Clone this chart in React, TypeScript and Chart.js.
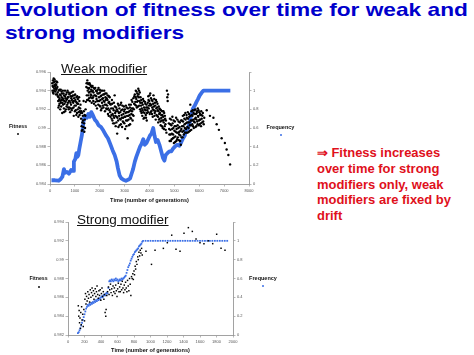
import React, { useEffect, useRef } from "react";
import { Chart, registerables } from "chart.js";

Chart.register(...registerables);

const FONT = '"Liberation Sans", Arial, Helvetica, sans-serif';
const BLUE = "#3b6fe6";

// ---------- tick labels ----------
const weakTimeTicks = [0, 1000, 2000, 3000, 4000, 5000, 6000, 7000, 8000];
const weakFitnessTicks = [0.984, 0.986, 0.988, 0.99, 0.992, 0.994, 0.996];
const strongTimeTicks = [0, 200, 400, 600, 800, 1000, 1200, 1400, 1600, 1800, 2000];
const strongFitnessTicks = [0.982, 0.984, 0.986, 0.988, 0.99, 0.992, 0.994];
const frequencyTicks = [0, 0.2, 0.4, 0.6, 0.8, 1, 1.2];

// ---------- weak modifier: [generation, fitness] (first half of the cloud) ----------
const weakFitnessA: [number, number][] = [
  [90, 0.9948], [100, 0.994], [115, 0.9951], [130, 0.9944], [140, 0.9937], [155, 0.9949], [170, 0.9942], [185, 0.9952],
  [200, 0.9945], [215, 0.9939], [230, 0.9947], [245, 0.9941], [260, 0.995], [280, 0.9936], [295, 0.9944],
  [310, 0.9938], [330, 0.9929], [345, 0.9933], [360, 0.9924], [375, 0.9941], [390, 0.9931], [410, 0.992], [425, 0.9935],
  [440, 0.9927], [460, 0.9939], [475, 0.993], [490, 0.9916], [510, 0.9932], [525, 0.9925], [545, 0.9937], [560, 0.9921],
  [575, 0.9929], [595, 0.9934], [610, 0.9918], [630, 0.9928], [650, 0.9936], [665, 0.9923], [685, 0.9931],
  [705, 0.994], [720, 0.9927], [740, 0.9933], [755, 0.992], [775, 0.9936], [790, 0.9929], [810, 0.9917], [830, 0.9934],
  [845, 0.9925], [865, 0.9938], [880, 0.993], [900, 0.9921], [920, 0.9935], [935, 0.9927], [955, 0.9913], [970, 0.9932],
  [990, 0.9924], [1010, 0.9936], [1030, 0.9919], [1050, 0.9928], [1065, 0.9933], [1085, 0.9916], [1100, 0.9926],
  [1120, 0.9931], [1140, 0.9912], [1160, 0.9922], [1180, 0.9929], [1200, 0.9918], [1225, 0.9925],
  [1250, 0.991], [1270, 0.9902], [1290, 0.9916], [1310, 0.9898], [1330, 0.9908], [1350, 0.9929], [1370, 0.9905],
  [1390, 0.9914], [1410, 0.99], [1430, 0.992],
  [1460, 0.9944], [1480, 0.9935], [1500, 0.9951], [1515, 0.994], [1530, 0.993], [1550, 0.9947], [1565, 0.9938],
  [1580, 0.9943], [1600, 0.9929], [1620, 0.9946], [1640, 0.9936], [1655, 0.9941], [1675, 0.9927], [1690, 0.9939],
  [1710, 0.9945], [1730, 0.9933], [1750, 0.9938], [1770, 0.9926], [1790, 0.9942],
  [1810, 0.9935], [1830, 0.9928], [1850, 0.994], [1870, 0.9931], [1890, 0.9921], [1910, 0.9937], [1930, 0.9929],
  [1950, 0.9943], [1970, 0.9933], [1990, 0.9924], [2010, 0.9938], [2030, 0.993], [2050, 0.9919], [2070, 0.9935],
  [2090, 0.9927], [2110, 0.994], [2130, 0.9932], [2150, 0.9922], [2170, 0.9936], [2190, 0.9928], [2210, 0.9918],
  [2230, 0.9933], [2250, 0.9925], [2270, 0.9937], [2290, 0.992], [2310, 0.993], [2330, 0.9915], [2350, 0.9927],
  [2370, 0.9934], [2390, 0.9919], [2410, 0.9926], [2430, 0.9912],
  [2460, 0.9921], [2480, 0.991], [2500, 0.9926], [2520, 0.9915], [2540, 0.9905], [2560, 0.9919], [2580, 0.9911],
  [2600, 0.9935], [2620, 0.9916], [2640, 0.9902], [2660, 0.9922], [2680, 0.9912], [2700, 0.9894], [2720, 0.9918],
  [2740, 0.9908], [2760, 0.9924], [2780, 0.9913], [2800, 0.9903], [2820, 0.9917], [2840, 0.9909], [2860, 0.9927],
  [2880, 0.9914], [2900, 0.9901], [2920, 0.992], [2940, 0.9911], [2960, 0.9906], [2980, 0.9918], [3000, 0.9912],
  [3020, 0.9899], [3040, 0.9916], [3060, 0.9908], [3080, 0.9922], [3100, 0.9913], [3120, 0.9889], [3140, 0.9917],
  [3160, 0.9909], [3180, 0.9925], [3200, 0.9914], [3220, 0.9904], [3240, 0.9919], [3260, 0.991], [3280, 0.993],
  [3300, 0.9918], [3320, 0.9908], [3340, 0.9921], [3360, 0.9913], [3380, 0.9926],
  [3410, 0.9936], [3430, 0.9928], [3450, 0.994], [3470, 0.9931], [3490, 0.9922], [3510, 0.9937], [3530, 0.9929],
  [3550, 0.9942], [3570, 0.9933], [3590, 0.9924], [3610, 0.9938], [3630, 0.9927], [3650, 0.9918], [3670, 0.993],
  [3690, 0.9921], [3710, 0.9913], [3730, 0.9925], [3750, 0.9917], [3770, 0.9929], [3790, 0.9911], [3810, 0.992],
  [3830, 0.9926], [3850, 0.9914], [3870, 0.9922], [3890, 0.9908], [3910, 0.9919],
  [3930, 0.9927], [3950, 0.9934], [3970, 0.9921], [3990, 0.9929], [4010, 0.9915], [4030, 0.9937], [4050, 0.9924],
  [4070, 0.9918], [4090, 0.993], [4110, 0.9922], [4130, 0.9912], [4150, 0.9926], [4170, 0.9919], [4190, 0.9931],
  [4210, 0.9916], [4230, 0.9924], [4250, 0.9909], [4270, 0.9921], [4290, 0.9928], [4310, 0.9913], [4330, 0.9919],
  [4350, 0.9906], [4370, 0.9923], [4390, 0.9915], [4410, 0.991], [4430, 0.992], [4450, 0.9903], [4470, 0.9914],
  [4490, 0.9908], [4510, 0.9918], [4530, 0.99], [4550, 0.9912], [4570, 0.9906], [4590, 0.9916], [4610, 0.9902],
  [4630, 0.991], [4650, 0.9898],
  [4700, 0.994], [4715, 0.9933], [4730, 0.9929], [4745, 0.9936],
  [4780, 0.9905], [4800, 0.9893], [4820, 0.991], [4840, 0.9898], [4860, 0.9886], [4880, 0.9903], [4900, 0.9894],
  [4920, 0.9912], [4940, 0.9889], [4960, 0.99], [4980, 0.9884], [5000, 0.9897], [5020, 0.9907], [5040, 0.9891],
  [5060, 0.9902], [5080, 0.9886], [5100, 0.9895], [5120, 0.9909], [5140, 0.989], [5160, 0.99], [5180, 0.9887],
  [5200, 0.9896], [5220, 0.9906], [5240, 0.9892], [5260, 0.9882], [5280, 0.9899],
  [5300, 0.9908], [5320, 0.9896], [5340, 0.9913], [5360, 0.9902], [5380, 0.9893], [5400, 0.991], [5420, 0.99],
  [5440, 0.9916], [5460, 0.9905], [5480, 0.9895], [5500, 0.9911], [5520, 0.9901], [5540, 0.9917], [5560, 0.9906],
  [5580, 0.9896], [5600, 0.9912], [5620, 0.9903], [5640, 0.9925], [5660, 0.9908], [5680, 0.9898],
  [5700, 0.9914], [5720, 0.9904], [5740, 0.9919], [5760, 0.9909], [5780, 0.99], [5800, 0.9915], [5820, 0.9906],
  [5840, 0.992], [5860, 0.9911], [5880, 0.9902], [5900, 0.9916], [5920, 0.9907], [5940, 0.9921], [5960, 0.9912],
  [5980, 0.9903], [6000, 0.9917], [6020, 0.9909], [6040, 0.9914], [6060, 0.9905], [6080, 0.9918], [6100, 0.991],
  [6130, 0.9913], [6160, 0.9907], [6200, 0.9911],
  [6300, 0.9919], [6430, 0.9913], [6570, 0.9911], [6700, 0.9904], [6790, 0.9898], [6900, 0.9889], [7030, 0.9884],
  [7100, 0.9877], [7170, 0.9871], [7240, 0.9861],
];

// weak modifier: [generation, fitness] (second half of the cloud)
const weakFitnessB: [number, number][] = [
  [105, 0.9945], [122, 0.9938], [148, 0.9953], [162, 0.994], [178, 0.9946], [208, 0.995], [222, 0.9943], [238, 0.9936],
  [252, 0.9946], [270, 0.9942], [288, 0.9949],
  [320, 0.9934], [338, 0.9922], [352, 0.994], [368, 0.993], [382, 0.9926], [400, 0.9936], [418, 0.9929], [432, 0.9941],
  [450, 0.9923], [468, 0.9933], [482, 0.9937], [500, 0.9927], [518, 0.994], [535, 0.993], [552, 0.9917], [568, 0.9935],
  [585, 0.9926], [602, 0.994], [620, 0.9932], [640, 0.992], [658, 0.993], [675, 0.9938], [695, 0.9925],
  [712, 0.9933], [730, 0.9922], [748, 0.9938], [765, 0.9929], [782, 0.9922], [800, 0.9937], [820, 0.9927], [838, 0.9921],
  [855, 0.9932], [872, 0.9919], [890, 0.9934], [910, 0.9928], [928, 0.9939], [945, 0.9922], [962, 0.9929], [980, 0.9935],
  [1000, 0.9918], [1020, 0.993], [1040, 0.9924], [1058, 0.9914], [1075, 0.9927], [1092, 0.9934], [1110, 0.992],
  [1130, 0.9926], [1150, 0.9917], [1170, 0.9933], [1190, 0.9914], [1212, 0.9921], [1238, 0.9916],
  [1260, 0.9918], [1280, 0.9897], [1300, 0.9906], [1320, 0.9913], [1340, 0.9901], [1360, 0.9918], [1380, 0.9896],
  [1400, 0.9909], [1420, 0.9913], [1440, 0.9928],
  [1470, 0.9948], [1490, 0.993], [1508, 0.9943], [1522, 0.9948], [1540, 0.9935], [1558, 0.9942], [1572, 0.9932],
  [1590, 0.9948], [1610, 0.9939], [1630, 0.9933], [1648, 0.9945], [1665, 0.9935], [1682, 0.9944], [1700, 0.9932],
  [1720, 0.994], [1740, 0.9929], [1760, 0.9943], [1780, 0.9935],
  [1820, 0.9943], [1840, 0.9924], [1860, 0.9934], [1880, 0.9939], [1900, 0.9929], [1920, 0.9941], [1940, 0.9925],
  [1960, 0.9937], [1980, 0.9929], [2000, 0.9941], [2020, 0.9923], [2040, 0.9934], [2060, 0.994], [2080, 0.9921],
  [2100, 0.9931], [2120, 0.9924], [2140, 0.9936], [2160, 0.9929], [2180, 0.994], [2200, 0.9925], [2220, 0.9937],
  [2240, 0.993], [2260, 0.9921], [2280, 0.9932], [2300, 0.9924], [2320, 0.9935], [2340, 0.9921], [2360, 0.9913],
  [2380, 0.9928], [2400, 0.9933], [2420, 0.9917], [2440, 0.9925],
  [2470, 0.9914], [2490, 0.993], [2510, 0.9908], [2530, 0.9921], [2550, 0.9913], [2570, 0.9927], [2590, 0.9905],
  [2610, 0.9923], [2630, 0.9913], [2650, 0.9918], [2670, 0.9906], [2690, 0.992], [2710, 0.9911], [2730, 0.9926],
  [2750, 0.9901], [2770, 0.9916], [2790, 0.9921], [2810, 0.991], [2830, 0.9925], [2850, 0.9904], [2870, 0.9919],
  [2890, 0.9911], [2910, 0.9924], [2930, 0.9907], [2950, 0.9915], [2970, 0.9923], [2990, 0.9905], [3010, 0.992],
  [3030, 0.9912], [3050, 0.9924], [3070, 0.9902], [3090, 0.9917], [3110, 0.9908], [3130, 0.9921], [3150, 0.9913],
  [3170, 0.9903], [3190, 0.9918], [3210, 0.9922], [3230, 0.9911], [3250, 0.9925], [3270, 0.9915], [3290, 0.9921],
  [3310, 0.9928], [3330, 0.9914], [3350, 0.9932], [3370, 0.992], [3390, 0.9934],
  [3420, 0.9925], [3440, 0.9933], [3460, 0.9924], [3480, 0.9939], [3500, 0.9928], [3520, 0.9934], [3540, 0.9923],
  [3560, 0.9936], [3580, 0.994], [3600, 0.9929], [3620, 0.992], [3640, 0.9933], [3660, 0.9924], [3680, 0.9916],
  [3700, 0.9927], [3720, 0.9919], [3740, 0.9931], [3760, 0.991], [3780, 0.9922], [3800, 0.9916], [3820, 0.9928],
  [3840, 0.9919], [3860, 0.9911], [3880, 0.9925], [3900, 0.9916], [3920, 0.9922],
  [3940, 0.9917], [3960, 0.993], [3980, 0.9924], [4000, 0.9935], [4020, 0.9926], [4040, 0.9917], [4060, 0.9932],
  [4080, 0.9925], [4100, 0.9915], [4120, 0.9929], [4140, 0.992], [4160, 0.9935], [4180, 0.9923], [4200, 0.9913],
  [4220, 0.9927], [4240, 0.9918], [4260, 0.993], [4280, 0.9914], [4300, 0.9922], [4320, 0.9926], [4340, 0.9912],
  [4360, 0.9918], [4380, 0.9909], [4400, 0.9921], [4420, 0.9916], [4440, 0.9907], [4460, 0.9919], [4480, 0.9911],
  [4500, 0.9902], [4520, 0.9914], [4540, 0.9908], [4560, 0.9918], [4580, 0.9899], [4600, 0.9909], [4620, 0.9913],
  [4640, 0.9904], [4660, 0.9908], [4680, 0.9895],
  [4790, 0.9899], [4810, 0.9886], [4830, 0.9904], [4850, 0.9893], [4870, 0.9909], [4890, 0.9888], [4910, 0.9899],
  [4930, 0.9905], [4950, 0.9893], [4970, 0.9908], [4990, 0.989], [5010, 0.9902], [5030, 0.9885], [5050, 0.9896],
  [5070, 0.9911], [5090, 0.9899], [5110, 0.9888], [5130, 0.9903], [5150, 0.9895], [5170, 0.9907], [5190, 0.9893],
  [5210, 0.9901], [5230, 0.9886], [5250, 0.9897], [5270, 0.9908], [5290, 0.989],
  [5310, 0.9902], [5330, 0.989], [5350, 0.9907], [5370, 0.9897], [5390, 0.9914], [5410, 0.9904], [5430, 0.9895],
  [5450, 0.9909], [5470, 0.9899], [5490, 0.9914], [5510, 0.9906], [5530, 0.9895], [5550, 0.991], [5570, 0.99],
  [5590, 0.9915], [5610, 0.9906], [5630, 0.9897], [5650, 0.9913], [5670, 0.9903], [5690, 0.9918],
  [5710, 0.9908], [5730, 0.9913], [5750, 0.9902], [5770, 0.9916], [5790, 0.9907], [5810, 0.9919], [5830, 0.991],
  [5850, 0.9901], [5870, 0.9915], [5890, 0.9909], [5910, 0.9918], [5930, 0.9904], [5950, 0.9913], [5970, 0.9919],
  [5990, 0.9908], [6010, 0.9904], [6030, 0.9915], [6050, 0.9909], [6070, 0.9902], [6090, 0.9914], [6115, 0.9906],
  [6145, 0.9916], [6180, 0.9904],
];

const weakFitness: [number, number][] = [...weakFitnessA, ...weakFitnessB];

// weak modifier: [generation, frequency]
const weakFrequency: [number, number][] = [
  [60, 0.04], [200, 0.04], [350, 0.035], [420, 0.05], [500, 0.08], [560, 0.16], [600, 0.12], [680, 0.13], [760, 0.11],
  [850, 0.15], [930, 0.14], [960, 0.24], [1020, 0.27], [1060, 0.33], [1100, 0.29], [1140, 0.31], [1180, 0.38],
  [1230, 0.45], [1280, 0.52], [1320, 0.6], [1360, 0.7], [1420, 0.73], [1480, 0.71], [1540, 0.75], [1600, 0.72],
  [1660, 0.77], [1720, 0.74], [1800, 0.69], [1870, 0.67], [1950, 0.63], [2050, 0.61], [2150, 0.57], [2250, 0.52],
  [2330, 0.49], [2420, 0.43], [2520, 0.36], [2600, 0.31], [2680, 0.24], [2730, 0.17], [2800, 0.09], [2870, 0.06],
  [2950, 0.045], [3050, 0.035], [3135, 0.045], [3220, 0.06], [3280, 0.11], [3340, 0.16], [3410, 0.24], [3470, 0.29],
  [3550, 0.35], [3620, 0.4], [3680, 0.43], [3750, 0.48], [3810, 0.42], [3880, 0.44], [3950, 0.48], [4020, 0.52],
  [4080, 0.54], [4150, 0.6], [4200, 0.52], [4260, 0.45], [4330, 0.47], [4400, 0.42], [4470, 0.35], [4540, 0.28],
  [4600, 0.25], [4650, 0.31], [4720, 0.33], [4800, 0.35], [4880, 0.35], [4950, 0.38], [5020, 0.4], [5100, 0.42],
  [5200, 0.41], [5280, 0.45], [5350, 0.49], [5420, 0.52], [5470, 0.58], [5550, 0.6], [5620, 0.66], [5680, 0.75],
  [5750, 0.81], [5820, 0.84], [5890, 0.88], [5950, 0.91], [6020, 0.95], [6100, 0.98], [6170, 1.0], [6400, 1.0],
  [6700, 1.0], [7000, 1.0], [7250, 1.0],
];

// ---------- strong modifier: [generation, fitness] ----------
const strongFitness: [number, number][] = [
  [125, 0.9851], [130, 0.984], [135, 0.9846], [140, 0.9833], [145, 0.9838], [150, 0.9827], [155, 0.9844], [160, 0.9831],
  [165, 0.985], [170, 0.9836], [178, 0.9842], [185, 0.9829], [192, 0.9847], [200, 0.9835],
  [205, 0.9858], [212, 0.9864], [218, 0.9853], [225, 0.9861], [232, 0.9856], [240, 0.9866], [248, 0.9859], [255, 0.9863],
  [262, 0.9855], [270, 0.9868], [278, 0.986], [285, 0.9865],
  [292, 0.987], [300, 0.9862], [308, 0.9867], [315, 0.9858], [322, 0.9864], [330, 0.9869], [338, 0.9861], [345, 0.9866],
  [352, 0.9872], [360, 0.9863], [368, 0.9859], [375, 0.9867], [382, 0.9862], [390, 0.9868], [398, 0.9857], [405, 0.9864],
  [412, 0.987], [420, 0.9861], [428, 0.9866], [435, 0.9858], [442, 0.9863], [450, 0.9844], [458, 0.984], [462, 0.9847],
  [470, 0.9862],
  [480, 0.9866], [490, 0.9871], [498, 0.9863], [506, 0.9868], [515, 0.9874], [522, 0.9865], [530, 0.9869], [538, 0.9862],
  [546, 0.9872], [555, 0.9866], [562, 0.987], [570, 0.9864], [578, 0.9873], [586, 0.9867], [594, 0.9861], [602, 0.9869],
  [610, 0.9875], [618, 0.9866],
  [626, 0.9871], [634, 0.9866], [642, 0.9874], [650, 0.9868], [658, 0.9877], [666, 0.987], [674, 0.9865], [682, 0.9873],
  [690, 0.9868], [698, 0.9876], [706, 0.987], [714, 0.9866], [722, 0.9878], [730, 0.9872], [738, 0.9867], [746, 0.988],
  [754, 0.9874], [762, 0.9862], [770, 0.9882],
  [778, 0.988], [786, 0.9885], [792, 0.9879], [800, 0.9888], [806, 0.9884], [814, 0.9893], [820, 0.989], [828, 0.9898],
  [836, 0.9895], [845, 0.9903], [852, 0.99], [860, 0.9908], [868, 0.9904], [876, 0.991], [884, 0.9907], [892, 0.9912],
  [900, 0.9905],
  [945, 0.9909], [1012, 0.9895], [1055, 0.991], [1156, 0.9912], [1204, 0.9918], [1257, 0.9926], [1309, 0.9911],
  [1358, 0.9909], [1406, 0.9928], [1459, 0.9934], [1507, 0.993], [1552, 0.9922], [1600, 0.9918], [1648, 0.9917],
  [1701, 0.992], [1754, 0.9917], [1802, 0.9927], [1855, 0.9912], [1903, 0.991],
];

// strong modifier: [generation, frequency]
const strongFrequency: [number, number][] = [
  [120, 0.02], [130, 0.03], [140, 0.05], [150, 0.07], [160, 0.1], [170, 0.13], [180, 0.16], [190, 0.19], [200, 0.22],
  [210, 0.25], [220, 0.28], [230, 0.3], [240, 0.32], [250, 0.31], [260, 0.33], [270, 0.32], [280, 0.34], [290, 0.33],
  [300, 0.35], [310, 0.34], [320, 0.36], [330, 0.35], [340, 0.37], [350, 0.36], [360, 0.38], [370, 0.37], [380, 0.39],
  [390, 0.38], [400, 0.4], [410, 0.41], [420, 0.4], [430, 0.42], [440, 0.43], [450, 0.42], [460, 0.44], [470, 0.45],
  [480, 0.44], [490, 0.5], [500, 0.57], [510, 0.58], [520, 0.57], [530, 0.59], [540, 0.58], [550, 0.57], [560, 0.59],
  [570, 0.58], [580, 0.6], [590, 0.58], [600, 0.59], [610, 0.57], [620, 0.58], [630, 0.59], [640, 0.58], [650, 0.6],
  [660, 0.59], [670, 0.6], [680, 0.61], [690, 0.62], [700, 0.63], [710, 0.66], [720, 0.69], [730, 0.72], [740, 0.74],
  [750, 0.76], [760, 0.79], [770, 0.81], [780, 0.83], [790, 0.85], [800, 0.86], [810, 0.88], [820, 0.89], [830, 0.9],
  [840, 0.91], [850, 0.92], [860, 0.94], [870, 0.95], [880, 0.96], [890, 0.97], [900, 0.99], [910, 1],
  [940, 1], [970, 1], [1000, 1], [1030, 1], [1060, 1], [1090, 1], [1120, 1], [1150, 1], [1180, 1], [1210, 1], [1240, 1],
  [1270, 1], [1300, 1], [1330, 1], [1360, 1], [1390, 1], [1420, 1], [1450, 1], [1480, 1], [1510, 1], [1540, 1],
  [1570, 1], [1600, 1], [1630, 1], [1660, 1], [1690, 1], [1720, 1], [1750, 1], [1780, 1], [1810, 1], [1840, 1],
  [1870, 1], [1900, 1], [1930, 1],
];

type PanelProps = {
  fitness: [number, number][];
  frequency: [number, number][];
  timeTicks: number[];
  fitTicks: number[];
  width: number;
  height: number;
  left: number;
  top: number;
  leftW: number;
  rightW: number;
  bottomH: number;
  padTop: number;
  titlePadBottom: number;
  freqLine: boolean;
  fitStyle: string;
  fitRadius: number;
};

function Panel(p: PanelProps) {
  const ref = useRef<HTMLCanvasElement | null>(null);
  useEffect(() => {
    if (!ref.current) return;
    const tickFont = { size: 4, family: FONT };
    const gridCommon = {
      drawOnChartArea: false,
      drawTicks: true,
      tickLength: 2.5,
      color: "#8a8a8a",
      lineWidth: 0.6,
    };
    const border = { display: true, color: "#8a8a8a", width: 0.8 };
    const chart = new Chart(ref.current, {
      type: "scatter",
      data: {
        datasets: [
          {
            label: "Fitness",
            data: p.fitness.map(([x, y]) => ({ x, y })),
            yAxisID: "y",
            backgroundColor: "#000",
            borderColor: "#000",
            pointRadius: p.fitRadius,
            pointBorderWidth: 0,
            pointStyle: p.fitStyle as any,
            showLine: false,
          },
          {
            label: "Frequency",
            data: p.frequency.map(([x, y]) => ({ x, y })),
            yAxisID: "y1",
            backgroundColor: BLUE,
            borderColor: BLUE,
            borderWidth: p.freqLine ? 3.8 : 0,
            borderJoinStyle: "round",
            pointRadius: p.freqLine ? 0 : 1.25,
            pointBorderWidth: 0,
            pointStyle: "rect",
            showLine: p.freqLine,
            tension: 0,
          },
        ],
      },
      options: {
        responsive: false,
        animation: false,
        events: [],
        layout: { padding: { top: p.padTop, left: 0, right: 0, bottom: 0 } },
        plugins: { legend: { display: false }, tooltip: { enabled: false }, title: { display: false } },
        scales: {
          x: {
            type: "linear",
            min: p.timeTicks[0],
            max: p.timeTicks[p.timeTicks.length - 1],
            afterBuildTicks: (s: any) => {
              s.ticks = p.timeTicks.map((v) => ({ value: v }));
            },
            afterFit: (s: any) => {
              s.height = p.bottomH;
            },
            ticks: {
              font: tickFont,
              color: "#555",
              padding: 1.5,
              maxRotation: 0,
              autoSkip: false,
              callback: (v: any) => String(v),
            },
            grid: gridCommon,
            border,
            title: {
              display: true,
              text: "Time (number of generations)",
              font: { size: 5.6, weight: "bold", family: FONT },
              color: "#111",
              padding: { top: 0, bottom: p.titlePadBottom },
            },
          },
          y: {
            type: "linear",
            position: "left",
            min: p.fitTicks[0],
            max: p.fitTicks[p.fitTicks.length - 1],
            afterBuildTicks: (s: any) => {
              s.ticks = p.fitTicks.map((v) => ({ value: v }));
            },
            afterFit: (s: any) => {
              s.width = p.leftW;
            },
            ticks: {
              font: tickFont,
              color: "#555",
              padding: 1.5,
              autoSkip: false,
              callback: (v: any) => String(+Number(v).toFixed(3)),
            },
            grid: gridCommon,
            border,
          },
          y1: {
            type: "linear",
            position: "right",
            min: frequencyTicks[0],
            max: frequencyTicks[frequencyTicks.length - 1],
            afterBuildTicks: (s: any) => {
              s.ticks = frequencyTicks.map((v) => ({ value: v }));
            },
            afterFit: (s: any) => {
              s.width = p.rightW;
            },
            ticks: {
              font: tickFont,
              color: "#555",
              padding: 1.5,
              autoSkip: false,
              callback: (v: any) => (Number(v) > 1.05 ? "" : String(+Number(v).toFixed(1))),
            },
            grid: gridCommon,
            border,
          },
        },
      } as any,
    });
    return () => chart.destroy();
  }, []);
  return (
    <canvas
      ref={ref}
      width={p.width}
      height={p.height}
      style={{ position: "absolute", left: p.left, top: p.top, width: p.width, height: p.height }}
    />
  );
}

function AxisLabel(props: { text: string; x: number; y: number; size: number; dot: string; dotY: number }) {
  return (
    <>
      <div
        style={{
          position: "absolute",
          left: props.x,
          top: props.y,
          transform: "translate(-50%, -50%)",
          font: `bold ${props.size}px ${FONT}`,
          color: "#111",
          whiteSpace: "nowrap",
          lineHeight: 1,
        }}
      >
        {props.text}
      </div>
      <div
        style={{
          position: "absolute",
          left: props.x - 1,
          top: props.dotY - 1,
          width: 2,
          height: 2,
          borderRadius: 1,
          background: props.dot,
        }}
      />
    </>
  );
}

export default function App() {
  return (
    <div
      style={{
        position: "fixed",
        left: 0,
        top: 0,
        width: 474,
        height: 355,
        overflow: "hidden",
        background: "#fff",
        fontFamily: FONT,
      }}
    >
      <div
        style={{
          position: "absolute",
          left: 5,
          top: -1,
          font: `bold 18.5px ${FONT}`,
          lineHeight: "22.6px",
          color: "#0000cc",
          whiteSpace: "nowrap",
          transform: "scaleX(1.227)",
          transformOrigin: "0 0",
        }}
      >
        Evolution of fitness over time for weak and
        <br />
        strong modifiers
      </div>

      <Panel
        fitness={weakFitness}
        frequency={weakFrequency}
        timeTicks={weakTimeTicks}
        fitTicks={weakFitnessTicks}
        width={300}
        height={155}
        left={0}
        top={55}
        leftW={50}
        rightW={51}
        bottomH={26}
        padTop={17}
        titlePadBottom={6}
        freqLine={true}
        fitStyle="circle"
        fitRadius={1.2}
      />
      <Panel
        fitness={strongFitness}
        frequency={strongFrequency}
        timeTicks={strongTimeTicks}
        fitTicks={strongFitnessTicks}
        width={300}
        height={150}
        left={0}
        top={205}
        leftW={68}
        rightW={67}
        bottomH={20}
        padTop={17}
        titlePadBottom={1}
        freqLine={false}
        fitStyle="rect"
        fitRadius={1.05}
      />

      <div
        style={{
          position: "absolute",
          left: 61,
          top: 60.6,
          font: `13.5px ${FONT}`,
          lineHeight: "16px",
          textDecoration: "underline",
          color: "#111",
          whiteSpace: "nowrap",
        }}
      >
        Weak modifier
      </div>
      <div
        style={{
          position: "absolute",
          left: 77,
          top: 212.3,
          font: `13.5px ${FONT}`,
          lineHeight: "16px",
          textDecoration: "underline",
          color: "#111",
          whiteSpace: "nowrap",
        }}
      >
        Strong modifier
      </div>

      <AxisLabel text="Fitness" x={18} y={127} size={5.2} dot="#111" dotY={134} />
      <AxisLabel text="Frequency" x={280.5} y={128} size={5.5} dot={BLUE} dotY={135} />
      <AxisLabel text="Fitness" x={38.5} y={279} size={5.2} dot="#111" dotY={287} />
      <AxisLabel text="Frequency" x={263} y={279} size={5.5} dot={BLUE} dotY={286} />

      <div
        style={{
          position: "absolute",
          left: 317,
          top: 146.3,
          font: `bold 12px ${FONT}`,
          lineHeight: "15.7px",
          color: "#e0101c",
          whiteSpace: "nowrap",
          transform: "scaleX(1.08)",
          transformOrigin: "0 0",
        }}
      >
        ⇒ Fitness increases
        <br />
        over time for strong
        <br />
        modifiers only, weak
        <br />
        modifiers are fixed by
        <br />
        drift
      </div>
    </div>
  );
}
